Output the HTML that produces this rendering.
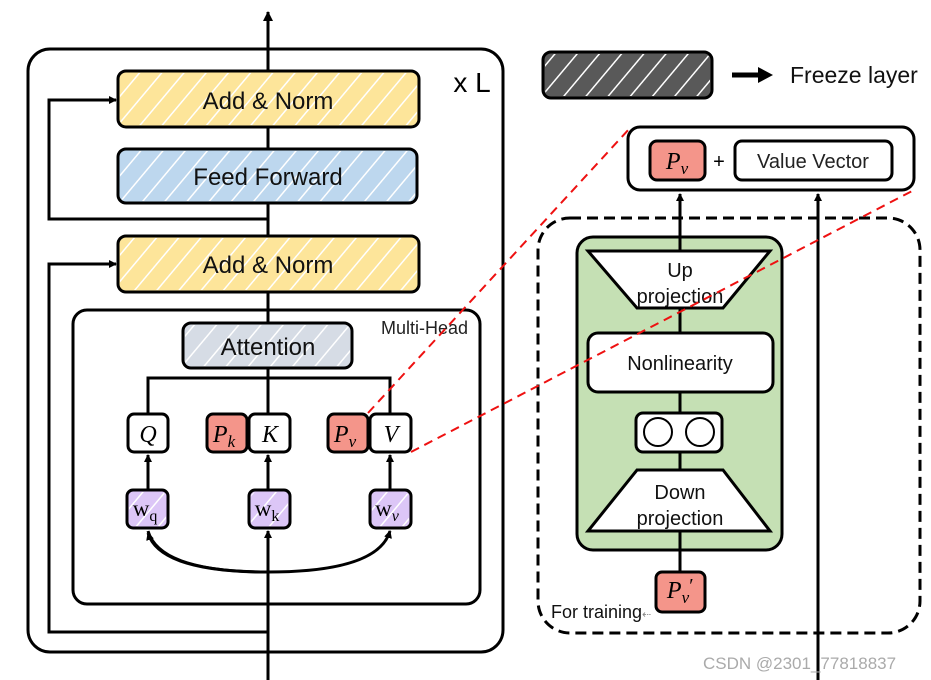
<!DOCTYPE html>
<html><head><meta charset="utf-8"><style>html,body{margin:0;padding:0;background:#fff}svg{display:block}</style></head>
<body>
<svg width="931" height="680" viewBox="0 0 931 680" xmlns="http://www.w3.org/2000/svg" font-family="Liberation Sans, sans-serif">
<defs>
<pattern id="h" patternUnits="userSpaceOnUse" width="17" height="17" patternTransform="rotate(40)">
<rect width="17" height="17" fill="none"/><line x1="0" y1="0" x2="0" y2="17" stroke="#fff" stroke-width="3"/>
</pattern>
<marker id="a" markerWidth="8" markerHeight="8" refX="7" refY="4" orient="auto" markerUnits="userSpaceOnUse"><path d="M0,0 L8,4 L0,8 Z" fill="#000"/></marker>
<marker id="b" markerWidth="10" markerHeight="10" refX="9" refY="5" orient="auto" markerUnits="userSpaceOnUse"><path d="M0,0 L10,5 L0,10 Z" fill="#000"/></marker>
</defs>
<g stroke="#000" stroke-width="3" fill="none">
<rect x="28" y="49" width="475" height="603" rx="22"/>
<line x1="268" y1="71" x2="268" y2="12" marker-end="url(#b)"/>
<line x1="268" y1="127" x2="268" y2="292"/>
<polyline points="268,219 49,219 49,100 116,100" marker-end="url(#a)"/>
<polyline points="268,632 49,632 49,264 116,264" marker-end="url(#a)"/>
<line x1="268" y1="292" x2="268" y2="323"/>
<rect x="73" y="310" width="407" height="294" rx="14"/>
<line x1="268" y1="368" x2="268" y2="414"/>
<polyline points="148,414 148,378 390,378 390,414"/>
<line x1="268" y1="680" x2="268" y2="531" marker-end="url(#a)"/>
<line x1="148" y1="490" x2="148" y2="455" marker-end="url(#a)"/>
<line x1="268" y1="490" x2="268" y2="455" marker-end="url(#a)"/>
<line x1="390" y1="490" x2="390" y2="455" marker-end="url(#a)"/>
<path d="M148,531 Q160,572 268,572 Q378,572 390,531" marker-end="url(#a)"/>
<path d="M268,572 Q160,572 148,533" marker-end="url(#a)"/>
</g>
<g stroke="#000" stroke-width="3">
<rect x="118" y="71" width="301" height="56" rx="8" fill="#fde59a"/>
<rect x="118" y="149" width="299" height="54" rx="8" fill="#bdd7ee"/>
<rect x="118" y="236" width="301" height="56" rx="8" fill="#fde59a"/>
<rect x="183" y="323" width="169" height="45" rx="8" fill="#d6dce5"/>
<rect x="128" y="414" width="40" height="38" rx="6" fill="#fff"/>
<rect x="207" y="414" width="40" height="38" rx="6" fill="#f4958a"/>
<rect x="249" y="414" width="41" height="38" rx="6" fill="#fff"/>
<rect x="328" y="414" width="40" height="38" rx="6" fill="#f4958a"/>
<rect x="370" y="414" width="41" height="38" rx="6" fill="#fff"/>
<rect x="127" y="490" width="41" height="38" rx="6" fill="#dcc6f7"/>
<rect x="249" y="490" width="41" height="38" rx="6" fill="#dcc6f7"/>
<rect x="370" y="490" width="41" height="38" rx="6" fill="#dcc6f7"/>
<rect x="543" y="52" width="169" height="46" rx="8" fill="#595959"/>
</g>
<g stroke="none">
<rect x="120" y="73" width="297" height="52" rx="6" fill="url(#h)"/>
<rect x="120" y="151" width="295" height="50" rx="6" fill="url(#h)"/>
<rect x="120" y="238" width="297" height="52" rx="6" fill="url(#h)"/>
<rect x="185" y="325" width="165" height="41" rx="6" fill="url(#h)"/>
<rect x="129" y="492" width="37" height="34" rx="5" fill="url(#h)"/>
<rect x="251" y="492" width="37" height="34" rx="5" fill="url(#h)"/>
<rect x="372" y="492" width="37" height="34" rx="5" fill="url(#h)"/>
<rect x="545" y="54" width="165" height="42" rx="6" fill="url(#h)"/>
</g>
<g font-size="24" text-anchor="middle" fill="#111">
<text x="268" y="109">Add &amp; Norm</text>
<text x="268" y="185">Feed Forward</text>
<text x="268" y="273">Add &amp; Norm</text>
<text x="268" y="355">Attention</text>
</g>
<text x="472" y="92" font-size="28" text-anchor="middle">x L</text>
<text x="468" y="334" font-size="18" text-anchor="end" fill="#222">Multi-Head</text>
<g font-family="Liberation Serif, serif" font-style="italic" font-size="24" text-anchor="middle">
<text x="148" y="442">Q</text>
<text x="224" y="442">P<tspan font-size="17" dy="5">k</tspan></text>
<text x="270" y="442">K</text>
<text x="345" y="442">P<tspan font-size="17" dy="5">v</tspan></text>
<text x="391" y="442">V</text>
</g>
<g font-family="Liberation Serif, serif" font-size="23" text-anchor="middle">
<text x="145" y="516">w<tspan font-size="16" dy="5">q</tspan></text>
<text x="267" y="516">w<tspan font-size="16" dy="5">k</tspan></text>
<text x="387" y="516">w<tspan font-size="16" dy="5" font-style="italic">v</tspan></text>
</g>
<line x1="732" y1="75" x2="760" y2="75" stroke="#000" stroke-width="5"/>
<path d="M758,67 L773,75 L758,83 Z" fill="#000"/>
<text x="790" y="83" font-size="23" fill="#111">Freeze layer</text>
<g stroke="#000" stroke-width="3" fill="none">
<rect x="538" y="218" width="382" height="415" rx="32" stroke-dasharray="11,6"/>
<rect x="577" y="237" width="205" height="313" rx="16" fill="#c5e0b4"/>
<line x1="680" y1="612" x2="680" y2="194" marker-end="url(#a)"/>
<line x1="818" y1="680" x2="818" y2="194" marker-end="url(#a)"/>
<rect x="628" y="127" width="286" height="63" rx="12" fill="#fff"/>
<rect x="650" y="141" width="55" height="39" rx="7" fill="#f4958a"/>
<rect x="735" y="141" width="157" height="39" rx="7" fill="#fff"/>
<polygon points="588,251 770,251 723,308 637,308" fill="#fff"/>
<rect x="588" y="333" width="185" height="59" rx="10" fill="#fff"/>
<rect x="636" y="413" width="86" height="39" rx="7" fill="#fff"/>
<circle cx="658" cy="432" r="14" stroke-width="2"/>
<circle cx="700" cy="432" r="14" stroke-width="2"/>
<polygon points="637,470 723,470 770,531 588,531" fill="#fff"/>
<rect x="656" y="572" width="49" height="40" rx="6" fill="#f4958a"/>
</g>
<text x="677" y="169" font-family="Liberation Serif, serif" font-style="italic" font-size="24" text-anchor="middle">P<tspan font-size="17" dy="5">v</tspan></text>
<text x="719" y="168" font-size="20" text-anchor="middle">+</text>
<text x="813" y="168" font-size="20" text-anchor="middle" fill="#222">Value Vector</text>
<g font-size="20" text-anchor="middle" fill="#111">
<text x="680" y="277">Up</text>
<text x="680" y="303">projection</text>
<text x="680" y="370">Nonlinearity</text>
<text x="680" y="499">Down</text>
<text x="680" y="525">projection</text>
</g>
<text x="678" y="598" font-family="Liberation Serif, serif" font-style="italic" font-size="24" text-anchor="middle">P<tspan font-size="17" dy="5">v</tspan></text>
<text x="688" y="592" font-family="Liberation Serif, serif" font-style="italic" font-size="20">′</text>
<text x="551" y="618" font-size="18" fill="#111">For training<tspan font-size="11" fill="#888">⇠</tspan></text>
<g stroke="#ee1111" stroke-width="2" stroke-dasharray="9,6" fill="none">
<line x1="368" y1="413" x2="630" y2="128"/>
<line x1="411" y1="452" x2="914" y2="190"/>
</g>
<text x="703" y="669" font-size="17" fill="#aaa">CSDN @2301_77818837</text>
</svg>
</body></html>
